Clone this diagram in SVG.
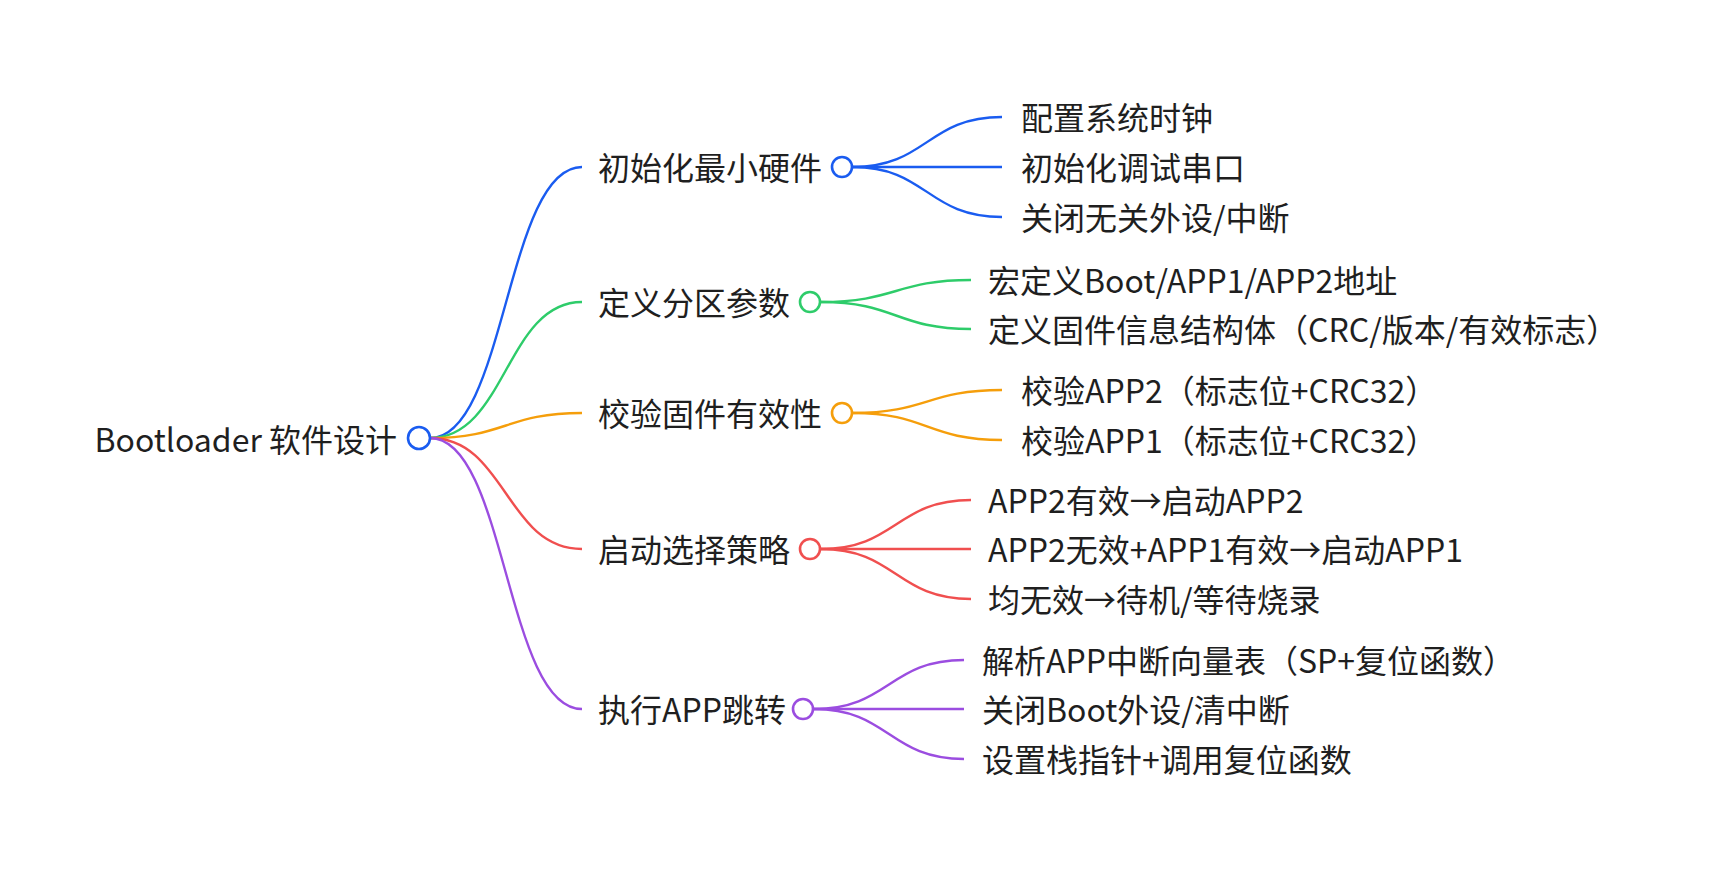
<svg xmlns="http://www.w3.org/2000/svg" width="1712" height="872" viewBox="0 0 1712 872">
<style>
text{font-family:"Noto Sans CJK SC","Noto Sans",sans-serif;font-size:32px;fill:#1f1f1f;dominant-baseline:central}
path{fill:none;stroke-width:2.4}
circle{fill:#fff;stroke-width:2.6}
.b{stroke:#1a5cf0}.g{stroke:#2ecc6a}.o{stroke:#f59e0b}.r{stroke:#f04f4f}.p{stroke:#9b4de0}
</style>
<rect width="1712" height="872" fill="#fff"/>
<g id="connectors">
<path class="b" d="M430,438 C506,438 506,167 582,167"/>
<path class="g" d="M430,438 C506,438 506,302 582,302"/>
<path class="o" d="M430,438 C506,438 506,413 582,413"/>
<path class="r" d="M430,438 C506,438 506,549 582,549"/>
<path class="p" d="M430,438 C506,438 506,709 582,709"/>
<path class="b" d="M853,167 C927,167 927,117 1002,117"/>
<path class="b" d="M853,167 L1002,167"/>
<path class="b" d="M853,167 C927,167 927,217 1002,217"/>
<path class="g" d="M821,302 C896,302 896,280 971,280"/>
<path class="g" d="M821,302 C896,302 896,329 971,329"/>
<path class="o" d="M853,413 C927,413 927,390 1002,390"/>
<path class="o" d="M853,413 C927,413 927,440 1002,440"/>
<path class="r" d="M821,549 C896,549 896,500 971,500"/>
<path class="r" d="M821,549 L971,549"/>
<path class="r" d="M821,549 C896,549 896,599 971,599"/>
<path class="p" d="M814,709 C889,709 889,660 964,660"/>
<path class="p" d="M814,709 L964,709"/>
<path class="p" d="M814,709 C889,709 889,759 964,759"/>
</g>
<g id="root"><text x="397" y="438" text-anchor="end">Bootloader 软件设计</text><circle class="b" cx="419" cy="438" r="11"/></g>
<g id="n1"><text x="598" y="166">初始化最小硬件</text><circle class="b" cx="842" cy="167" r="10"/></g>
<g id="n2"><text x="598" y="301">定义分区参数</text><circle class="g" cx="810" cy="302" r="10"/></g>
<g id="n3"><text x="598" y="412">校验固件有效性</text><circle class="o" cx="842" cy="413" r="10"/></g>
<g id="n4"><text x="598" y="548">启动选择策略</text><circle class="r" cx="810" cy="549" r="10"/></g>
<g id="n5"><text x="598" y="708">执行APP跳转</text><circle class="p" cx="803" cy="709" r="10"/></g>
<g id="l1a"><text x="1021" y="116">配置系统时钟</text></g>
<g id="l1b"><text x="1021" y="166">初始化调试串口</text></g>
<g id="l1c"><text x="1021" y="216">关闭无关外设/中断</text></g>
<g id="l2a"><text x="988" y="279">宏定义Boot/APP1/APP2地址</text></g>
<g id="l2b"><text x="988" y="328">定义固件信息结构体（CRC/版本/有效标志）</text></g>
<g id="l3a"><text x="1021" y="389">校验APP2（标志位+CRC32）</text></g>
<g id="l3b"><text x="1021" y="439">校验APP1（标志位+CRC32）</text></g>
<g id="l4a"><text x="988" y="499">APP2有效→启动APP2</text></g>
<g id="l4b"><text x="988" y="548">APP2无效+APP1有效→启动APP1</text></g>
<g id="l4c"><text x="988" y="598">均无效→待机/等待烧录</text></g>
<g id="l5a"><text x="982" y="659">解析APP中断向量表（SP+复位函数）</text></g>
<g id="l5b"><text x="982" y="708">关闭Boot外设/清中断</text></g>
<g id="l5c"><text x="982" y="758">设置栈指针+调用复位函数</text></g>
</svg>
